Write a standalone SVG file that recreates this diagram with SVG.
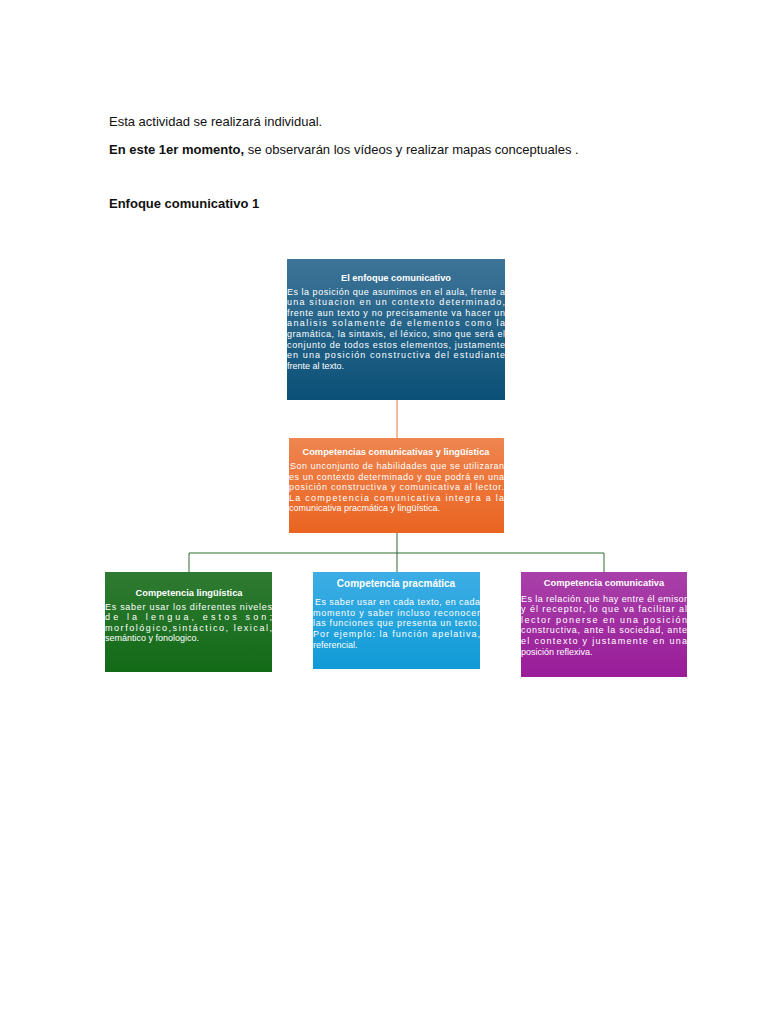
<svg xmlns="http://www.w3.org/2000/svg" width="768" height="1024" viewBox="0 0 768 1024">
<defs>
<linearGradient id="gb" x1="0" y1="0" x2="0" y2="1"><stop offset="0" stop-color="#3d7497"/><stop offset="1" stop-color="#0b5077"/></linearGradient>
<linearGradient id="go" x1="0" y1="0" x2="0" y2="1"><stop offset="0" stop-color="#ee8550"/><stop offset="1" stop-color="#ea6420"/></linearGradient>
<linearGradient id="gg" x1="0" y1="0" x2="0" y2="1"><stop offset="0" stop-color="#2f7a32"/><stop offset="1" stop-color="#126a17"/></linearGradient>
<linearGradient id="gc" x1="0" y1="0" x2="0" y2="1"><stop offset="0" stop-color="#3eaee5"/><stop offset="1" stop-color="#0f9ad6"/></linearGradient>
<linearGradient id="gp" x1="0" y1="0" x2="0" y2="1"><stop offset="0" stop-color="#a940a9"/><stop offset="1" stop-color="#991c99"/></linearGradient>
</defs>
<style>
.h{font-family:"Liberation Sans",Arial,sans-serif;font-size:13px;fill:#111}
.b{font-weight:bold}
.t{font-family:"Liberation Sans",Arial,sans-serif;font-size:9.3px;font-weight:bold;fill:#fff;text-anchor:middle}
.x{font-family:"Liberation Sans",Arial,sans-serif;font-size:9px;fill:#fff}
</style>
<rect width="768" height="1024" fill="#fff"/>
<text class="h" x="109" y="126">Esta actividad se realizará individual.</text>
<text class="h" x="109" y="154"><tspan class="b">En este 1er momento,</tspan> se observarán los vídeos y realizar mapas conceptuales .</text>
<text class="h b" x="109" y="208">Enfoque comunicativo 1</text>
<g id="connectors" fill="none">
<line x1="397" y1="400" x2="397" y2="438" stroke="#e8773a"/>
<path d="M397 533V553M189 553H604M189 553V572M397 553V572M604 553V572" stroke="#2f6b2f"/>
</g>
<g id="n1">
<rect x="287" y="259" width="218" height="141" fill="url(#gb)"/>
<text class="t" x="396" y="281">El enfoque comunicativo</text>
<g class="x" lengthAdjust="spacing">
<text x="287" y="295" textLength="218">Es la posición que asumimos en el aula, frente a</text>
<text x="287" y="305" textLength="218">una situacion en un contexto determinado,</text>
<text x="287" y="316" textLength="218">frente aun texto y no precisamente va hacer un</text>
<text x="287" y="326" textLength="218">analisis solamente de elementos como la</text>
<text x="287" y="337" textLength="218">gramática, la sintaxis, el léxico, sino que será el</text>
<text x="287" y="348" textLength="218">conjunto de todos estos elementos, justamente</text>
<text x="287" y="358" textLength="218">en una posición  constructiva del estudiante</text>
<text x="287" y="369">frente al texto.</text>
</g>
</g>
<g id="n2">
<rect x="289" y="438" width="215" height="95" fill="url(#go)"/>
<text class="t" x="396" y="455">Competencias comunicativas y lingüística</text>
<g class="x">
<text x="290" y="469" textLength="214">Son unconjunto de habilidades que se utilizaran</text>
<text x="289" y="480" textLength="215">es un contexto determinado y que podrá en una</text>
<text x="289" y="490" textLength="215">posición constructiva y comunicativa al lector.</text>
<text x="289" y="501" textLength="215">La competencia comunicativa integra a la</text>
<text x="289" y="511">comunicativa pracmática y lingüística.</text>
</g>
</g>
<g id="n3">
<rect x="105" y="572" width="167" height="100" fill="url(#gg)"/>
<text class="t" x="189" y="596">Competencia lingüística</text>
<g class="x">
<text x="105" y="610" textLength="167">Es saber usar los diferentes niveles</text>
<text x="105" y="620" textLength="167">de la lengua, estos son;</text>
<text x="105" y="631" textLength="167">morfológico,sintáctico, lexical,</text>
<text x="105" y="641">semántico y fonologico.</text>
</g>
</g>
<g id="n4">
<rect x="313" y="572" width="167" height="97" fill="url(#gc)"/>
<text class="t" x="396" y="587" style="font-size:10px">Competencia pracmática</text>
<g class="x">
<text x="315" y="605" textLength="165">Es saber usar en cada texto, en cada</text>
<text x="313" y="616" textLength="167">momento y saber incluso reconocer</text>
<text x="313" y="626" textLength="167">las funciones que presenta un texto.</text>
<text x="313" y="637" textLength="167">Por ejemplo: la función apelativa,</text>
<text x="313" y="648">referencial.</text>
</g>
</g>
<g id="n5">
<rect x="521" y="572" width="166" height="105" fill="url(#gp)"/>
<text class="t" x="604" y="586">Competencia comunicativa</text>
<g class="x">
<text x="521" y="602" textLength="166">Es la relación que hay entre él emisor</text>
<text x="521" y="612" textLength="166">y él receptor, lo que va facilitar al</text>
<text x="521" y="623" textLength="166">lector ponerse en una posición</text>
<text x="521" y="633" textLength="166">constructiva, ante la sociedad, ante</text>
<text x="521" y="644" textLength="166">el contexto y justamente en una</text>
<text x="521" y="655">posición reflexiva.</text>
</g>
</g>
</svg>
